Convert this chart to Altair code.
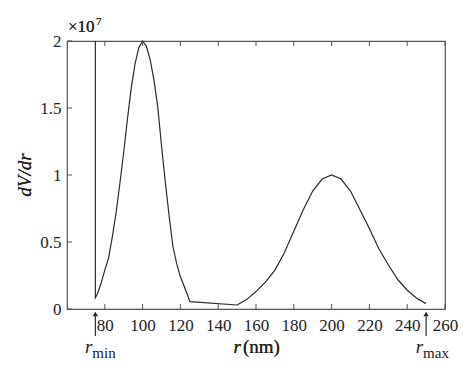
import altair as alt
import pandas as pd

# curve: r (nm) and dV/dr (x1e7)
r_vals = [75, 75, 76, 78, 80, 82, 84, 86, 88, 90, 92, 94, 96, 98, 100, 102, 104, 106, 108,
          110, 112, 114, 116, 118, 120, 122, 124, 125, 150, 155, 160, 165, 170, 175, 180,
          185, 190, 195, 200, 205, 210, 215, 220, 225, 230, 235, 240, 245, 250]
v_vals = [2.0, 0.085, 0.11, 0.19, 0.29, 0.38, 0.54, 0.72, 0.94, 1.17, 1.42, 1.65, 1.83,
          1.95, 2.0, 1.96, 1.86, 1.71, 1.51, 1.22, 0.95, 0.70, 0.47, 0.34, 0.24, 0.17,
          0.095, 0.055, 0.03, 0.07, 0.13, 0.2, 0.29, 0.42, 0.58, 0.74, 0.88, 0.97, 1.0,
          0.97, 0.88, 0.74, 0.6, 0.45, 0.33, 0.22, 0.14, 0.08, 0.04]
x_ticks = [80, 100, 120, 140, 160, 180, 200, 220, 240, 260]
y_ticks = [0, 0.5, 1, 1.5, 2]
marker_r = [75, 250]
marker_sub = ["min", "max"]

W, H = 378, 268
AX = "#555555"
LINE = "#2a2a2a"
TXT = "#222222"
FONT = "Liberation Serif"

curve = pd.DataFrame({"r": r_vals, "v": v_vals, "i": range(len(r_vals))})
xt = pd.DataFrame({"r": x_ticks})
yt = pd.DataFrame({"v": y_ticks})
mk = pd.DataFrame({"r": marker_r, "sub": marker_sub})

xs = alt.Scale(domain=[60, 260], nice=False)
ys = alt.Scale(domain=[0, 2], nice=False)

line = alt.Chart(curve).mark_line(color=LINE, strokeWidth=1.2).encode(
    x=alt.X("r:Q", scale=xs, axis=alt.Axis(
        values=x_ticks, ticks=False, domain=False, grid=False, title=None,
        labelFont=FONT, labelFontSize=17, labelColor=TXT, labelPadding=8,
        labelOverlap=False, labelFlush=False)),
    y=alt.Y("v:Q", scale=ys, axis=alt.Axis(
        values=y_ticks, format="~g", ticks=False, domain=False, grid=False, title=None,
        labelFont=FONT, labelFontSize=17, labelColor=TXT, labelPadding=6,
        labelOverlap=False, labelFlush=False)),
    order="i:Q",
)

tick_bottom = alt.Chart(xt).mark_rule(color=AX, strokeWidth=1).encode(
    x=alt.X("r:Q", scale=xs), y=alt.value(H), y2=alt.value(H - 5))
tick_top = alt.Chart(xt).mark_rule(color=AX, strokeWidth=1).encode(
    x=alt.X("r:Q", scale=xs), y=alt.value(0), y2=alt.value(5))
tick_left = alt.Chart(yt).mark_rule(color=AX, strokeWidth=1).encode(
    y=alt.Y("v:Q", scale=ys), x=alt.value(0), x2=alt.value(5))

arrow_shaft = alt.Chart(mk).mark_rule(color=LINE, strokeWidth=1.2).encode(
    x=alt.X("r:Q", scale=xs), y=alt.value(H + 4), y2=alt.value(H + 27))
arrow_head = alt.Chart(mk).mark_point(shape="triangle-up", filled=True, color=LINE,
                                      size=30, opacity=1).encode(
    x=alt.X("r:Q", scale=xs), y=alt.value(H + 5))
r_lab = alt.Chart(mk).mark_text(font=FONT, fontSize=19, fontStyle="italic", color=TXT,
                                align="right", baseline="alphabetic", dx=-3).encode(
    x=alt.X("r:Q", scale=xs), y=alt.value(H + 44), text=alt.value("r"))
sub_lab = alt.Chart(mk).mark_text(font=FONT, fontSize=15, color=TXT,
                                  align="left", baseline="alphabetic", dx=-3).encode(
    x=alt.X("r:Q", scale=xs), y=alt.value(H + 49), text="sub:N")

xtitle_r = alt.Chart(mk).mark_text(font=FONT, fontSize=19, fontStyle="italic", color=TXT,
                                   align="right", baseline="middle").encode(
    x=alt.value(W / 2 - 15), y=alt.value(H + 38), text=alt.value("r"))
xtitle_nm = alt.Chart(mk).mark_text(font=FONT, fontSize=19, color=TXT,
                                    align="left", baseline="middle").encode(
    x=alt.value(W / 2 - 13), y=alt.value(H + 38), text=alt.value("(nm)"))
ytitle = alt.Chart(mk).mark_text(font=FONT, fontSize=19, fontStyle="italic", color=TXT,
                                 align="center", baseline="middle", angle=270).encode(
    x=alt.value(-42), y=alt.value(H / 2), text=alt.value("dV/dr"))
mult = alt.Chart(mk).mark_text(font=FONT, fontSize=17, color=TXT,
                               align="left", baseline="alphabetic").encode(
    x=alt.value(1), y=alt.value(-9), text=alt.value("×10"))
mult_exp = alt.Chart(mk).mark_text(font=FONT, fontSize=11, color=TXT,
                                   align="left", baseline="alphabetic").encode(
    x=alt.value(29), y=alt.value(-16), text=alt.value("7"))

chart = alt.layer(
    line, tick_bottom, tick_top, tick_left, arrow_shaft, arrow_head, r_lab, sub_lab,
    xtitle_r, xtitle_nm, ytitle, mult, mult_exp
).properties(
    width=W, height=H,
    autosize=alt.AutoSizeParams(type="none"),
    padding={"left": 59, "top": 33, "right": 21, "bottom": 55},
).configure(font=FONT, background="white").configure_view(stroke=AX, strokeWidth=1.2)

chart.save("out.html", embed_options={"renderer": "svg", "actions": False})
